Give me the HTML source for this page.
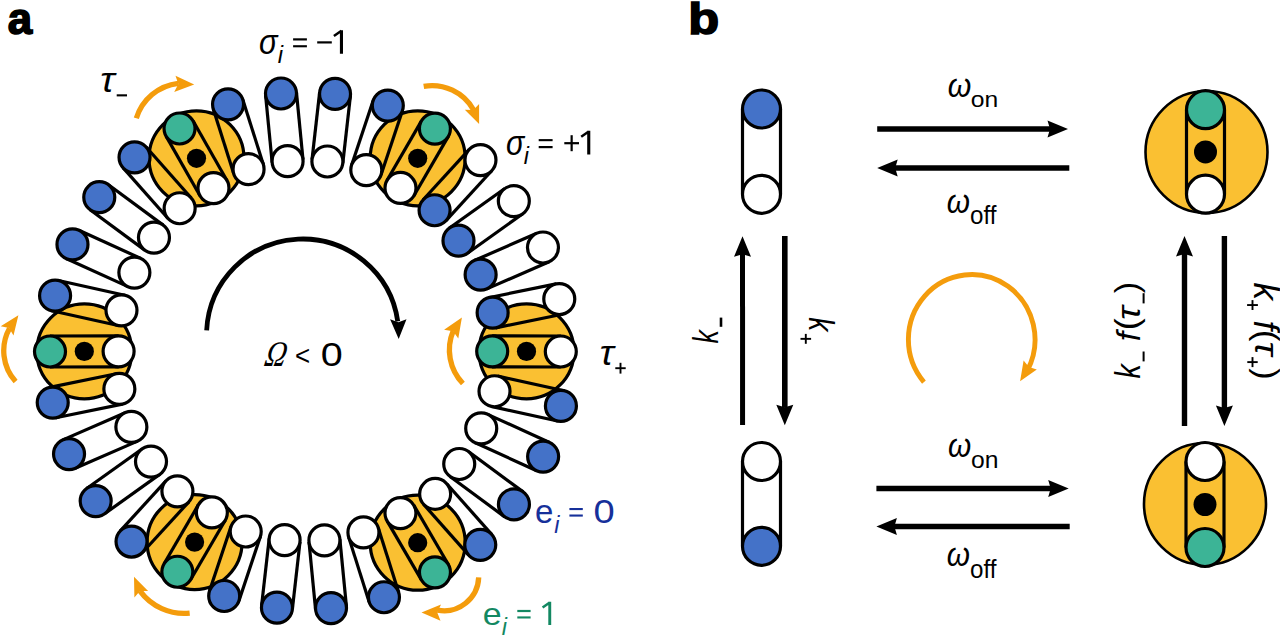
<!DOCTYPE html>
<html><head><meta charset="utf-8"><style>
html,body{margin:0;padding:0;background:#fff;width:1280px;height:635px;overflow:hidden}
svg{display:block}
svg{font-family:"Liberation Sans",sans-serif}
</style></head><body>
<svg width="1280" height="635" viewBox="0 0 1280 635">
<circle cx="526.5" cy="351.4" r="47.5" fill="#fac032" stroke="#000" stroke-width="3.2"/>
<circle cx="417.7" cy="158.3" r="47.5" fill="#fac032" stroke="#000" stroke-width="3.2"/>
<circle cx="196.5" cy="158.3" r="47.5" fill="#fac032" stroke="#000" stroke-width="3.2"/>
<circle cx="84.3" cy="351.4" r="47.5" fill="#fac032" stroke="#000" stroke-width="3.2"/>
<circle cx="194.6" cy="542.1" r="47.5" fill="#fac032" stroke="#000" stroke-width="3.2"/>
<circle cx="417.7" cy="542.7" r="47.5" fill="#fac032" stroke="#000" stroke-width="3.2"/>
<line x1="560.84" y1="335.99" x2="492.24" y2="335.81" stroke="#000" stroke-width="3.2" stroke-linecap="butt"/>
<line x1="560.76" y1="366.99" x2="492.16" y2="366.81" stroke="#000" stroke-width="3.2" stroke-linecap="butt"/>
<circle cx="560.8" cy="351.49" r="15.5" fill="#fff" stroke="#000" stroke-width="3.2"/>
<circle cx="492.2" cy="351.31" r="15.5" fill="#3cb496" stroke="#000" stroke-width="3.2"/>
<circle cx="526.5" cy="351.4" r="9.6" fill="#000"/>
<line x1="556.16" y1="283.86" x2="489.54" y2="297.47" stroke="#000" stroke-width="3.2" stroke-linecap="butt"/>
<line x1="562.37" y1="314.23" x2="495.75" y2="327.84" stroke="#000" stroke-width="3.2" stroke-linecap="butt"/>
<circle cx="559.27" cy="299.04" r="15.5" fill="#fff" stroke="#000" stroke-width="3.2"/>
<circle cx="492.64" cy="312.66" r="15.5" fill="#4472c8" stroke="#000" stroke-width="3.2"/>
<line x1="536.78" y1="233.31" x2="474.44" y2="260.48" stroke="#000" stroke-width="3.2" stroke-linecap="butt"/>
<line x1="549.16" y1="261.73" x2="486.83" y2="288.89" stroke="#000" stroke-width="3.2" stroke-linecap="butt"/>
<circle cx="542.97" cy="247.52" r="15.5" fill="#fff" stroke="#000" stroke-width="3.2"/>
<circle cx="480.63" cy="274.69" r="15.5" fill="#4472c8" stroke="#000" stroke-width="3.2"/>
<line x1="504.81" y1="188.49" x2="449.48" y2="228.03" stroke="#000" stroke-width="3.2" stroke-linecap="butt"/>
<line x1="522.83" y1="213.72" x2="467.5" y2="253.25" stroke="#000" stroke-width="3.2" stroke-linecap="butt"/>
<circle cx="513.82" cy="201.1" r="15.5" fill="#fff" stroke="#000" stroke-width="3.2"/>
<circle cx="458.49" cy="240.64" r="15.5" fill="#4472c8" stroke="#000" stroke-width="3.2"/>
<line x1="469.04" y1="149.6" x2="423.14" y2="199.77" stroke="#000" stroke-width="3.2" stroke-linecap="butt"/>
<line x1="491.91" y1="170.52" x2="446.01" y2="220.7" stroke="#000" stroke-width="3.2" stroke-linecap="butt"/>
<circle cx="480.47" cy="160.06" r="15.5" fill="#fff" stroke="#000" stroke-width="3.2"/>
<circle cx="434.58" cy="210.24" r="15.5" fill="#4472c8" stroke="#000" stroke-width="3.2"/>
<line x1="421.51" y1="120.85" x2="387.08" y2="180.19" stroke="#000" stroke-width="3.2" stroke-linecap="butt"/>
<line x1="448.32" y1="136.41" x2="413.89" y2="195.75" stroke="#000" stroke-width="3.2" stroke-linecap="butt"/>
<circle cx="434.91" cy="128.63" r="15.5" fill="#3cb496" stroke="#000" stroke-width="3.2"/>
<circle cx="400.49" cy="187.97" r="15.5" fill="#fff" stroke="#000" stroke-width="3.2"/>
<circle cx="417.7" cy="158.3" r="9.6" fill="#000"/>
<line x1="373.11" y1="100.68" x2="351.59" y2="165.19" stroke="#000" stroke-width="3.2" stroke-linecap="butt"/>
<line x1="402.51" y1="110.49" x2="380.99" y2="175" stroke="#000" stroke-width="3.2" stroke-linecap="butt"/>
<circle cx="387.81" cy="105.59" r="15.5" fill="#4472c8" stroke="#000" stroke-width="3.2"/>
<circle cx="366.29" cy="170.09" r="15.5" fill="#fff" stroke="#000" stroke-width="3.2"/>
<line x1="319.64" y1="92.2" x2="312" y2="159.76" stroke="#000" stroke-width="3.2" stroke-linecap="butt"/>
<line x1="350.44" y1="95.68" x2="342.8" y2="163.25" stroke="#000" stroke-width="3.2" stroke-linecap="butt"/>
<circle cx="335.04" cy="93.94" r="15.5" fill="#4472c8" stroke="#000" stroke-width="3.2"/>
<circle cx="327.4" cy="161.51" r="15.5" fill="#fff" stroke="#000" stroke-width="3.2"/>
<line x1="265.57" y1="95.01" x2="272.15" y2="162.69" stroke="#000" stroke-width="3.2" stroke-linecap="butt"/>
<line x1="296.43" y1="92.01" x2="303" y2="159.69" stroke="#000" stroke-width="3.2" stroke-linecap="butt"/>
<circle cx="281" cy="93.51" r="15.5" fill="#4472c8" stroke="#000" stroke-width="3.2"/>
<circle cx="287.58" cy="161.19" r="15.5" fill="#fff" stroke="#000" stroke-width="3.2"/>
<line x1="213.27" y1="109.01" x2="233.78" y2="173.84" stroke="#000" stroke-width="3.2" stroke-linecap="butt"/>
<line x1="242.83" y1="99.66" x2="263.34" y2="164.49" stroke="#000" stroke-width="3.2" stroke-linecap="butt"/>
<circle cx="228.05" cy="104.33" r="15.5" fill="#4472c8" stroke="#000" stroke-width="3.2"/>
<circle cx="248.56" cy="169.17" r="15.5" fill="#fff" stroke="#000" stroke-width="3.2"/>
<line x1="166.07" y1="136.15" x2="199.99" y2="195.78" stroke="#000" stroke-width="3.2" stroke-linecap="butt"/>
<line x1="193.01" y1="120.82" x2="226.93" y2="180.45" stroke="#000" stroke-width="3.2" stroke-linecap="butt"/>
<circle cx="179.54" cy="128.49" r="15.5" fill="#3cb496" stroke="#000" stroke-width="3.2"/>
<circle cx="213.46" cy="188.11" r="15.5" fill="#fff" stroke="#000" stroke-width="3.2"/>
<circle cx="196.5" cy="158.3" r="9.6" fill="#000"/>
<line x1="122.94" y1="167.63" x2="168.05" y2="218.51" stroke="#000" stroke-width="3.2" stroke-linecap="butt"/>
<line x1="146.14" y1="147.06" x2="191.25" y2="197.95" stroke="#000" stroke-width="3.2" stroke-linecap="butt"/>
<circle cx="134.54" cy="157.34" r="15.5" fill="#4472c8" stroke="#000" stroke-width="3.2"/>
<circle cx="179.65" cy="208.23" r="15.5" fill="#fff" stroke="#000" stroke-width="3.2"/>
<line x1="90.06" y1="209.69" x2="144.76" y2="250.09" stroke="#000" stroke-width="3.2" stroke-linecap="butt"/>
<line x1="108.48" y1="184.75" x2="163.18" y2="225.15" stroke="#000" stroke-width="3.2" stroke-linecap="butt"/>
<circle cx="99.27" cy="197.22" r="15.5" fill="#4472c8" stroke="#000" stroke-width="3.2"/>
<circle cx="153.97" cy="237.62" r="15.5" fill="#fff" stroke="#000" stroke-width="3.2"/>
<line x1="66.07" y1="258.52" x2="127.97" y2="286.66" stroke="#000" stroke-width="3.2" stroke-linecap="butt"/>
<line x1="78.9" y1="230.3" x2="140.8" y2="258.44" stroke="#000" stroke-width="3.2" stroke-linecap="butt"/>
<circle cx="72.48" cy="244.41" r="15.5" fill="#4472c8" stroke="#000" stroke-width="3.2"/>
<circle cx="134.38" cy="272.55" r="15.5" fill="#fff" stroke="#000" stroke-width="3.2"/>
<line x1="51.74" y1="310.81" x2="118.14" y2="325.47" stroke="#000" stroke-width="3.2" stroke-linecap="butt"/>
<line x1="58.42" y1="280.54" x2="124.82" y2="295.2" stroke="#000" stroke-width="3.2" stroke-linecap="butt"/>
<circle cx="55.08" cy="295.67" r="15.5" fill="#4472c8" stroke="#000" stroke-width="3.2"/>
<circle cx="121.48" cy="310.33" r="15.5" fill="#fff" stroke="#000" stroke-width="3.2"/>
<line x1="50.04" y1="366.99" x2="118.64" y2="366.81" stroke="#000" stroke-width="3.2" stroke-linecap="butt"/>
<line x1="49.96" y1="335.99" x2="118.56" y2="335.81" stroke="#000" stroke-width="3.2" stroke-linecap="butt"/>
<circle cx="50" cy="351.49" r="15.5" fill="#3cb496" stroke="#000" stroke-width="3.2"/>
<circle cx="118.6" cy="351.31" r="15.5" fill="#fff" stroke="#000" stroke-width="3.2"/>
<circle cx="84.3" cy="351.4" r="9.6" fill="#000"/>
<line x1="55.84" y1="417.74" x2="122.46" y2="404.13" stroke="#000" stroke-width="3.2" stroke-linecap="butt"/>
<line x1="49.63" y1="387.37" x2="116.25" y2="373.76" stroke="#000" stroke-width="3.2" stroke-linecap="butt"/>
<circle cx="52.73" cy="402.56" r="15.5" fill="#4472c8" stroke="#000" stroke-width="3.2"/>
<circle cx="119.36" cy="388.94" r="15.5" fill="#fff" stroke="#000" stroke-width="3.2"/>
<line x1="75.22" y1="468.29" x2="137.56" y2="441.12" stroke="#000" stroke-width="3.2" stroke-linecap="butt"/>
<line x1="62.84" y1="439.87" x2="125.17" y2="412.71" stroke="#000" stroke-width="3.2" stroke-linecap="butt"/>
<circle cx="69.03" cy="454.08" r="15.5" fill="#4472c8" stroke="#000" stroke-width="3.2"/>
<circle cx="131.37" cy="426.91" r="15.5" fill="#fff" stroke="#000" stroke-width="3.2"/>
<line x1="104.69" y1="513.71" x2="160.02" y2="474.17" stroke="#000" stroke-width="3.2" stroke-linecap="butt"/>
<line x1="86.67" y1="488.48" x2="142" y2="448.95" stroke="#000" stroke-width="3.2" stroke-linecap="butt"/>
<circle cx="95.68" cy="501.1" r="15.5" fill="#4472c8" stroke="#000" stroke-width="3.2"/>
<circle cx="151.01" cy="461.56" r="15.5" fill="#fff" stroke="#000" stroke-width="3.2"/>
<line x1="142.96" y1="552" x2="188.86" y2="501.83" stroke="#000" stroke-width="3.2" stroke-linecap="butt"/>
<line x1="120.09" y1="531.08" x2="165.99" y2="480.9" stroke="#000" stroke-width="3.2" stroke-linecap="butt"/>
<circle cx="131.53" cy="541.54" r="15.5" fill="#4472c8" stroke="#000" stroke-width="3.2"/>
<circle cx="177.42" cy="491.36" r="15.5" fill="#fff" stroke="#000" stroke-width="3.2"/>
<line x1="190.73" y1="579.54" x2="225.26" y2="520.26" stroke="#000" stroke-width="3.2" stroke-linecap="butt"/>
<line x1="163.94" y1="563.94" x2="198.47" y2="504.66" stroke="#000" stroke-width="3.2" stroke-linecap="butt"/>
<circle cx="177.34" cy="571.74" r="15.5" fill="#3cb496" stroke="#000" stroke-width="3.2"/>
<circle cx="211.86" cy="512.46" r="15.5" fill="#fff" stroke="#000" stroke-width="3.2"/>
<circle cx="194.6" cy="542.1" r="9.6" fill="#000"/>
<line x1="238.89" y1="600.92" x2="260.41" y2="536.41" stroke="#000" stroke-width="3.2" stroke-linecap="butt"/>
<line x1="209.49" y1="591.11" x2="231.01" y2="526.6" stroke="#000" stroke-width="3.2" stroke-linecap="butt"/>
<circle cx="224.19" cy="596.01" r="15.5" fill="#4472c8" stroke="#000" stroke-width="3.2"/>
<circle cx="245.71" cy="531.51" r="15.5" fill="#fff" stroke="#000" stroke-width="3.2"/>
<line x1="292.36" y1="609.4" x2="300" y2="541.84" stroke="#000" stroke-width="3.2" stroke-linecap="butt"/>
<line x1="261.56" y1="605.92" x2="269.2" y2="538.35" stroke="#000" stroke-width="3.2" stroke-linecap="butt"/>
<circle cx="276.96" cy="607.66" r="15.5" fill="#4472c8" stroke="#000" stroke-width="3.2"/>
<circle cx="284.6" cy="540.09" r="15.5" fill="#fff" stroke="#000" stroke-width="3.2"/>
<line x1="346.43" y1="606.59" x2="339.85" y2="538.91" stroke="#000" stroke-width="3.2" stroke-linecap="butt"/>
<line x1="315.57" y1="609.59" x2="309" y2="541.91" stroke="#000" stroke-width="3.2" stroke-linecap="butt"/>
<circle cx="331" cy="608.09" r="15.5" fill="#4472c8" stroke="#000" stroke-width="3.2"/>
<circle cx="324.42" cy="540.41" r="15.5" fill="#fff" stroke="#000" stroke-width="3.2"/>
<line x1="398.73" y1="592.59" x2="378.22" y2="527.76" stroke="#000" stroke-width="3.2" stroke-linecap="butt"/>
<line x1="369.17" y1="601.94" x2="348.66" y2="537.11" stroke="#000" stroke-width="3.2" stroke-linecap="butt"/>
<circle cx="383.95" cy="597.27" r="15.5" fill="#4472c8" stroke="#000" stroke-width="3.2"/>
<circle cx="363.44" cy="532.43" r="15.5" fill="#fff" stroke="#000" stroke-width="3.2"/>
<line x1="448.35" y1="564.55" x2="413.84" y2="505.26" stroke="#000" stroke-width="3.2" stroke-linecap="butt"/>
<line x1="421.56" y1="580.14" x2="387.05" y2="520.85" stroke="#000" stroke-width="3.2" stroke-linecap="butt"/>
<circle cx="434.95" cy="572.34" r="15.5" fill="#3cb496" stroke="#000" stroke-width="3.2"/>
<circle cx="400.45" cy="513.06" r="15.5" fill="#fff" stroke="#000" stroke-width="3.2"/>
<circle cx="417.7" cy="542.7" r="9.6" fill="#000"/>
<line x1="491.86" y1="534.57" x2="446.75" y2="483.69" stroke="#000" stroke-width="3.2" stroke-linecap="butt"/>
<line x1="468.66" y1="555.14" x2="423.55" y2="504.25" stroke="#000" stroke-width="3.2" stroke-linecap="butt"/>
<circle cx="480.26" cy="544.86" r="15.5" fill="#4472c8" stroke="#000" stroke-width="3.2"/>
<circle cx="435.15" cy="493.97" r="15.5" fill="#fff" stroke="#000" stroke-width="3.2"/>
<line x1="523.14" y1="491.91" x2="468.44" y2="451.51" stroke="#000" stroke-width="3.2" stroke-linecap="butt"/>
<line x1="504.72" y1="516.85" x2="450.02" y2="476.45" stroke="#000" stroke-width="3.2" stroke-linecap="butt"/>
<circle cx="513.93" cy="504.38" r="15.5" fill="#4472c8" stroke="#000" stroke-width="3.2"/>
<circle cx="459.23" cy="463.98" r="15.5" fill="#fff" stroke="#000" stroke-width="3.2"/>
<line x1="549.53" y1="442.48" x2="487.63" y2="414.34" stroke="#000" stroke-width="3.2" stroke-linecap="butt"/>
<line x1="536.7" y1="470.7" x2="474.8" y2="442.56" stroke="#000" stroke-width="3.2" stroke-linecap="butt"/>
<circle cx="543.12" cy="456.59" r="15.5" fill="#4472c8" stroke="#000" stroke-width="3.2"/>
<circle cx="481.22" cy="428.45" r="15.5" fill="#fff" stroke="#000" stroke-width="3.2"/>
<line x1="564.26" y1="390.79" x2="497.86" y2="376.13" stroke="#000" stroke-width="3.2" stroke-linecap="butt"/>
<line x1="557.58" y1="421.06" x2="491.18" y2="406.4" stroke="#000" stroke-width="3.2" stroke-linecap="butt"/>
<circle cx="560.92" cy="405.93" r="15.5" fill="#4472c8" stroke="#000" stroke-width="3.2"/>
<circle cx="494.52" cy="391.27" r="15.5" fill="#fff" stroke="#000" stroke-width="3.2"/>
<path d="M136.33 118.31A49.81 49.81 0 0 1 178.29 83.29" fill="none" stroke="#f49c0c" stroke-width="5.3"/>
<path d="M194.2 84.5L175.5 75.8L178.35 84.01L174.2 92Z" fill="#f49c0c"/>
<path d="M423.7 86.28A47.86 47.86 0 0 1 473.63 109.93" fill="none" stroke="#f49c0c" stroke-width="5.3"/>
<path d="M479.1 124L464.8 109.7L473.3 110.08L479.1 104Z" fill="#f49c0c"/>
<path d="M189.68 613.05A54.58 54.58 0 0 1 139.9 590.88" fill="none" stroke="#f49c0c" stroke-width="5.3"/>
<path d="M134 576.8L134.4 597.6L139.91 591.07L148.1 591Z" fill="#f49c0c"/>
<path d="M478.7 577.4A34.67 34.67 0 0 1 437.47 610.09" fill="none" stroke="#f49c0c" stroke-width="5.3"/>
<path d="M421.5 612.4L441 604.6L437.25 612.6L440.5 620.7Z" fill="#f49c0c"/>
<path d="M462.88 383.47A48.69 48.69 0 0 1 453.15 331.07" fill="none" stroke="#f49c0c" stroke-width="5.3"/>
<path d="M461.9 317.5L444.1 329.8L453.1 331.16L458.3 338.4Z" fill="#f49c0c"/>
<path d="M15.61 381.59A46.24 46.24 0 0 1 9.58 328.19" fill="none" stroke="#f49c0c" stroke-width="5.3"/>
<path d="M18.4 315.2L0.7 326.3L9.14 328.06L13.5 335.5Z" fill="#f49c0c"/>
<path d="M206.65 330.46A96.1 96.1 0 0 1 397.74 321.28" fill="none" stroke="#000" stroke-width="4.8"/>
<path d="M398.7 339.1L390.1 319.2L398.36 322.2L406.5 319.2Z" fill="#000"/>
<line x1="742.5" y1="109" x2="742.5" y2="194.3" stroke="#000" stroke-width="3.2" stroke-linecap="butt"/>
<line x1="780.5" y1="109" x2="780.5" y2="194.3" stroke="#000" stroke-width="3.2" stroke-linecap="butt"/>
<circle cx="761.5" cy="109" r="19" fill="#4472c8" stroke="#000" stroke-width="3.2"/>
<circle cx="761.5" cy="194.3" r="19" fill="#fff" stroke="#000" stroke-width="3.2"/>
<line x1="742.5" y1="461.5" x2="742.5" y2="546.3" stroke="#000" stroke-width="3.2" stroke-linecap="butt"/>
<line x1="780.5" y1="461.5" x2="780.5" y2="546.3" stroke="#000" stroke-width="3.2" stroke-linecap="butt"/>
<circle cx="761.5" cy="461.5" r="19" fill="#fff" stroke="#000" stroke-width="3.2"/>
<circle cx="761.5" cy="546.3" r="19" fill="#4472c8" stroke="#000" stroke-width="3.2"/>
<circle cx="1206.5" cy="152" r="61" fill="#fac032" stroke="#000" stroke-width="2.6"/>
<line x1="1186.5" y1="109.7" x2="1186.5" y2="194.2" stroke="#000" stroke-width="3.2" stroke-linecap="butt"/>
<line x1="1224.5" y1="109.7" x2="1224.5" y2="194.2" stroke="#000" stroke-width="3.2" stroke-linecap="butt"/>
<circle cx="1205.5" cy="109.7" r="19" fill="#3cb496" stroke="#000" stroke-width="3.2"/>
<circle cx="1205.5" cy="194.2" r="19" fill="#fff" stroke="#000" stroke-width="3.2"/>
<circle cx="1205.5" cy="151.95" r="11.5" fill="#000"/>
<circle cx="1205" cy="504" r="61" fill="#fac032" stroke="#000" stroke-width="2.6"/>
<line x1="1186" y1="461.5" x2="1186" y2="547.5" stroke="#000" stroke-width="3.2" stroke-linecap="butt"/>
<line x1="1224" y1="461.5" x2="1224" y2="547.5" stroke="#000" stroke-width="3.2" stroke-linecap="butt"/>
<circle cx="1205" cy="461.5" r="19" fill="#fff" stroke="#000" stroke-width="3.2"/>
<circle cx="1205" cy="547.5" r="19" fill="#3cb496" stroke="#000" stroke-width="3.2"/>
<circle cx="1205" cy="504.5" r="11.5" fill="#000"/>
<line x1="877.2" y1="129" x2="1050.5" y2="129" stroke="#000" stroke-width="5.5" stroke-linecap="butt"/>
<path d="M1068 129L1047.5 137.5L1050 129L1047.5 120.5Z" fill="#000"/>
<line x1="1069.3" y1="167.9" x2="894.7" y2="167.9" stroke="#000" stroke-width="5.5" stroke-linecap="butt"/>
<path d="M877.2 167.9L897.7 159.4L895.2 167.9L897.7 176.4Z" fill="#000"/>
<line x1="876.4" y1="488.5" x2="1051.2" y2="488.5" stroke="#000" stroke-width="5.5" stroke-linecap="butt"/>
<path d="M1068.7 488.5L1048.2 497L1050.7 488.5L1048.2 480Z" fill="#000"/>
<line x1="1069.7" y1="526.5" x2="893.9" y2="526.5" stroke="#000" stroke-width="5.5" stroke-linecap="butt"/>
<path d="M876.4 526.5L896.9 518L894.4 526.5L896.9 535Z" fill="#000"/>
<line x1="742.6" y1="424.9" x2="742.51" y2="253.8" stroke="#000" stroke-width="5.0" stroke-linecap="butt"/>
<path d="M742.5 236.3L751.01 256.8L742.51 254.3L734.01 256.8Z" fill="#000"/>
<line x1="784.8" y1="236" x2="784.8" y2="407.7" stroke="#000" stroke-width="5.6" stroke-linecap="butt"/>
<path d="M784.8 425.2L776.3 404.7L784.8 407.2L793.3 404.7Z" fill="#000"/>
<line x1="1184.5" y1="426" x2="1184.5" y2="253.5" stroke="#000" stroke-width="5.4" stroke-linecap="butt"/>
<path d="M1184.5 236L1193 256.5L1184.5 254L1176 256.5Z" fill="#000"/>
<line x1="1224.4" y1="236" x2="1224.4" y2="408.5" stroke="#000" stroke-width="5.4" stroke-linecap="butt"/>
<path d="M1224.4 426L1215.9 405.5L1224.4 408L1232.9 405.5Z" fill="#000"/>
<path d="M923.93 382.08A63.3 64.9 0 1 1 1027.56 370.03" fill="none" stroke="#f49c0c" stroke-width="4.9"/>
<path d="M1020.1 381.2L1023.6 360.4L1028.88 367.12L1036.8 369.6Z" fill="#f49c0c"/>
<text transform="translate(7.83,34.17)" font-size="43.81" font-weight="bold" stroke="#000" stroke-width="1.6">a</text>
<text transform="translate(688.36,34.17) scale(1.155,1)" font-size="43.81" font-weight="bold" stroke="#000" stroke-width="1.6">b</text>
<text transform="translate(258.98,53.86) scale(0.876,1)" font-size="35.12" font-style="italic">σ</text>
<text transform="translate(277.72,63.20)" font-size="23.74" font-style="italic">i</text>
<rect x="293.10" y="38.30" width="13.80" height="2.20" fill="#000"/><rect x="293.10" y="45.20" width="13.80" height="2.10" fill="#000"/>
<rect x="317.20" y="41.30" width="14.60" height="2.20" fill="#000"/>
<path d="M339.90 30.20L343.00 30.20L343.00 53.80L339.90 53.80ZM334.62 37.12L333.18 35.08L340.73 29.78L342.17 31.82Z" fill="#000"/>
<text transform="translate(100.29,92.46) scale(1.099,1)" font-size="35.12" font-style="italic">τ</text>
<rect x="116.70" y="94.30" width="10.30" height="2.10" fill="#000"/>
<text transform="translate(506.09,154.75) scale(0.853,1)" font-size="35.50" font-style="italic">σ</text>
<text transform="translate(523.63,163.70)" font-size="23.18" font-style="italic">i</text>
<rect x="538.70" y="139.10" width="13.90" height="2.10" fill="#000"/><rect x="538.70" y="146.00" width="13.90" height="2.20" fill="#000"/>
<rect x="564.30" y="142.10" width="14.70" height="2.20" fill="#000"/><rect x="570.55" y="135.20" width="2.20" height="16.00" fill="#000"/>
<path d="M587.20 130.80L590.30 130.80L590.30 154.60L587.20 154.60ZM581.92 137.77L580.48 135.73L588.03 130.38L589.47 132.42Z" fill="#000"/>
<text transform="translate(599.72,364.77) scale(1.099,1)" font-size="34.20" font-style="italic">τ</text>
<rect x="615.30" y="367.25" width="10.40" height="1.90" fill="#000"/><rect x="619.55" y="362.80" width="1.90" height="10.80" fill="#000"/>
<g transform="translate(0,365.8) skewX(-12) translate(0,-365.8)"><text transform="translate(263.27,365.80) scale(0.817,1)" font-size="35.95" font-family="Liberation Serif" font-style="italic">Ω</text></g>
<text transform="translate(294.92,364.93) scale(0.915,1)" font-size="28.36">&lt;</text>
<text transform="translate(320.66,365.87) scale(1.176,1)" font-size="33.62">0</text>
<text transform="translate(535.10,522.78) scale(1.022,1)" font-size="32.31" fill="#16309a">e</text>
<text transform="translate(554.22,532.60)" font-size="23.32" font-style="italic" fill="#16309a">i</text>
<rect x="569.40" y="508.00" width="13.40" height="2.10" fill="#16309a"/><rect x="569.40" y="514.50" width="13.40" height="2.10" fill="#16309a"/>
<text transform="translate(593.41,522.77) scale(1.133,1)" font-size="33.62" fill="#16309a">0</text>
<text transform="translate(482.76,625.09) scale(1.055,1)" font-size="32.13" fill="#138862">e</text>
<text transform="translate(501.82,634.60)" font-size="23.32" font-style="italic" fill="#138862">i</text>
<rect x="517.30" y="609.90" width="13.30" height="2.20" fill="#138862"/><rect x="517.30" y="616.40" width="13.30" height="2.10" fill="#138862"/>
<path d="M548.30 601.80L551.20 601.80L551.20 625.00L548.30 625.00ZM543.34 608.61L541.86 606.59L549.01 601.39L550.49 603.41Z" fill="#138862"/>
<text transform="translate(947.81,97.27) scale(0.887,1)" font-size="34.10" font-style="italic">ω</text>
<text transform="translate(970.76,106.68) scale(1.090,1)" font-size="22.63">on</text>
<text transform="translate(946.72,212.68) scale(0.898,1)" font-size="33.19" font-style="italic">ω</text>
<text transform="translate(969.98,223.75) scale(0.958,1)" font-size="25.23">off</text>
<text transform="translate(947.92,457.37) scale(0.884,1)" font-size="33.74" font-style="italic">ω</text>
<text transform="translate(971.06,468.07) scale(1.040,1)" font-size="23.73">on</text>
<text transform="translate(946.72,566.48) scale(0.903,1)" font-size="33.01" font-style="italic">ω</text>
<text transform="translate(969.98,577.55) scale(0.958,1)" font-size="25.23">off</text>
<g transform="rotate(-90)"><text transform="translate(-343.45,717.60) scale(0.760,1)" font-size="35.33" font-style="italic">k</text></g>
<rect x="719.70" y="317.60" width="2.60" height="9.20" fill="#000"/>
<g transform="rotate(90)"><text transform="translate(317.13,-809.40) scale(0.813,1)" font-size="34.64" font-style="italic">k</text></g>
<rect x="800.50" y="337.90" width="10.60" height="1.90" fill="#000"/><rect x="804.85" y="333.90" width="1.90" height="9.90" fill="#000"/>
<g transform="rotate(-90)"><text transform="translate(-378.38,1140.00) scale(0.817,1)" font-size="35.19" font-style="italic">k</text><text transform="translate(-341.25,1139.50)" font-size="33.95" font-style="italic">f</text><text transform="translate(-330.22,1137.99) scale(1.105,1)" font-size="32.42">(</text><text transform="translate(-319.84,1139.67) scale(1.092,1)" font-size="33.45" font-style="italic">τ</text><text transform="translate(-293.20,1137.99) scale(1.047,1)" font-size="32.42">)</text></g>
<rect x="1142.60" y="351.50" width="2.00" height="9.90" fill="#000"/>
<rect x="1142.60" y="293.20" width="2.00" height="10.20" fill="#000"/>
<g transform="rotate(90)"><text transform="translate(282.62,-1254.00)" font-size="35.19" font-style="italic">k</text><text transform="translate(320.51,-1254.00)" font-size="35.19" font-style="italic">f</text><text transform="translate(329.88,-1256.27)" font-size="34.14">(</text><text transform="translate(341.62,-1254.72) scale(1.155,1)" font-size="32.52" font-style="italic">τ</text><text transform="translate(368.25,-1256.27)" font-size="34.14">)</text></g>
<rect x="1247.10" y="304.10" width="10.80" height="1.90" fill="#000"/><rect x="1251.55" y="300.10" width="1.90" height="9.90" fill="#000"/>
<rect x="1247.30" y="361.15" width="10.40" height="1.90" fill="#000"/><rect x="1251.55" y="357.10" width="1.90" height="10.00" fill="#000"/>
</svg>
</body></html>
